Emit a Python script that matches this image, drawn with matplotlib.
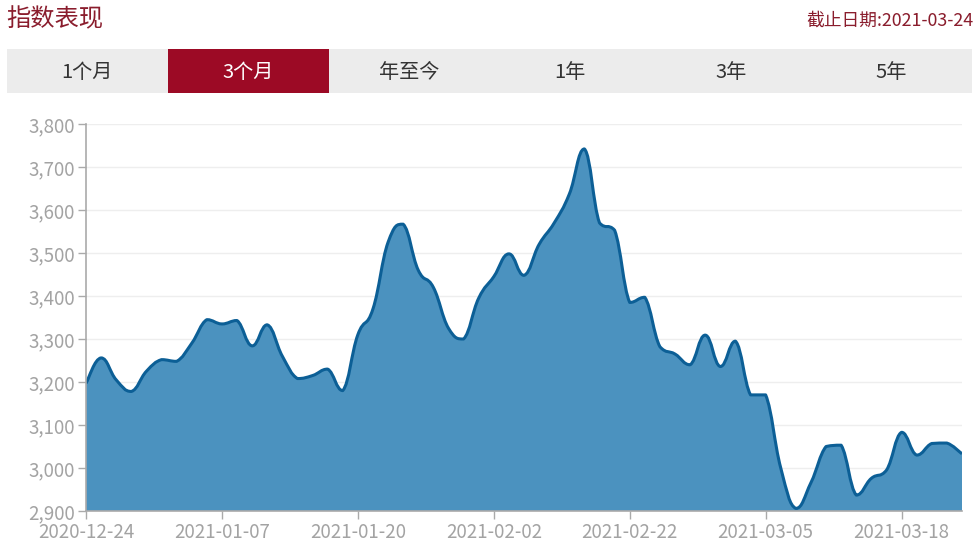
import numpy as np
import matplotlib.pyplot as plt
from matplotlib.path import Path
from matplotlib.patches import PathPatch, Rectangle

plt.rcParams['font.family'] = ['Noto Sans CJK SC', 'DejaVu Sans']

# trading days shown in the 3-month window
dates = ['2020-12-24', '2020-12-25', '2020-12-28', '2020-12-29', '2020-12-30', '2020-12-31',
         '2021-01-04', '2021-01-05', '2021-01-06', '2021-01-07', '2021-01-08', '2021-01-11',
         '2021-01-12', '2021-01-13', '2021-01-14', '2021-01-15', '2021-01-18', '2021-01-19',
         '2021-01-20', '2021-01-21', '2021-01-22', '2021-01-25', '2021-01-26', '2021-01-27',
         '2021-01-28', '2021-01-29', '2021-02-01', '2021-02-02', '2021-02-03', '2021-02-04',
         '2021-02-05', '2021-02-08', '2021-02-09', '2021-02-10', '2021-02-18', '2021-02-19',
         '2021-02-22', '2021-02-23', '2021-02-24', '2021-02-25', '2021-02-26', '2021-03-01',
         '2021-03-02', '2021-03-03', '2021-03-04', '2021-03-05', '2021-03-08', '2021-03-09',
         '2021-03-10', '2021-03-11', '2021-03-12', '2021-03-15', '2021-03-16', '2021-03-17',
         '2021-03-18', '2021-03-19', '2021-03-22', '2021-03-23', '2021-03-24']
values = [3197, 3256, 3205, 3178, 3225, 3252, 3248, 3290, 3345, 3335,
          3343, 3284, 3333, 3260, 3208, 3215, 3230, 3180, 3310, 3370,
          3525, 3567, 3460, 3420, 3325, 3300, 3395, 3445, 3498, 3448,
          3520, 3570, 3637, 3742, 3570, 3553, 3385, 3397, 3282, 3265,
          3240, 3309, 3236, 3295, 3170, 3170, 3000, 2906, 2966, 3050,
          3053, 2937, 2976, 2995, 3083, 3030, 3057, 3058, 3033]
tick_dates = ['2020-12-24', '2021-01-07', '2021-01-20', '2021-02-02',
              '2021-02-22', '2021-03-05', '2021-03-18']
y_ticks = [2900, 3000, 3100, 3200, 3300, 3400, 3500, 3600, 3700, 3800]
tabs = ['1个月', '3个月', '年至今', '1年', '3年', '5年']
active_tab = '3个月'
title = '指数表现'
as_of = '截止日期:2021-03-24'

red = '#9c0a25'
fill_c = '#4b92bf'
line_c = '#0c5f96'
grey_txt = '#a3a3a3'

W, H = 978, 551
fig = plt.figure(figsize=(W / 100, H / 100), dpi=100)

def fx(px):
    return px / W

def fy(py):
    return 1 - py / H

# header
fig.text(fx(6), fy(19), title, fontsize=17.5, color='#8a1d2d', ha='left', va='center')
fig.text(fx(973), fy(21), as_of, fontsize=12.8, color='#8a1d2d', ha='right', va='center')

# tab bar
x0, x1, ytop, ybot = 7, 972, 49, 93
tab_w = (x1 - x0) / len(tabs)
fig.patches.append(Rectangle((fx(x0), fy(ybot)), fx(x1) - fx(x0), fy(ytop) - fy(ybot),
                             transform=fig.transFigure, facecolor='#ececec', edgecolor='none'))
for i, t in enumerate(tabs):
    left = x0 + i * tab_w
    active = t == active_tab
    if active:
        fig.patches.append(Rectangle((fx(left), fy(ybot)), fx(tab_w), fy(ytop) - fy(ybot),
                                     transform=fig.transFigure, facecolor=red, edgecolor='none'))
    fig.text(fx(left + tab_w / 2), fy(72), t, fontsize=14.5,
             color='white' if active else '#333333', ha='center', va='center')

# chart
ax = fig.add_axes([fx(86), fy(511), fx(962 - 86), fy(124) - fy(511)])
x = np.arange(len(values))
y = np.array(values, dtype=float)

# smooth curve through the points, control points kept inside each segment's range
s = 0.22
verts = [(x[0], y[0])]
codes = [Path.MOVETO]
for i in range(len(x) - 1):
    p0 = np.array([x[max(i - 1, 0)], y[max(i - 1, 0)]])
    p1 = np.array([x[i], y[i]])
    p2 = np.array([x[i + 1], y[i + 1]])
    p3 = np.array([x[min(i + 2, len(x) - 1)], y[min(i + 2, len(x) - 1)]])
    c1 = p1 + (p2 - p0) * s
    c2 = p2 - (p3 - p1) * s
    lo, hi = min(p1[1], p2[1]), max(p1[1], p2[1])
    c1[1] = np.clip(c1[1], lo, hi)
    c2[1] = np.clip(c2[1], lo, hi)
    verts += [tuple(c1), tuple(c2), tuple(p2)]
    codes += [Path.CURVE4] * 3

base = y_ticks[0]
fill_verts = verts + [(x[-1], base), (x[0], base), (x[0], y[0])]
fill_codes = codes + [Path.LINETO, Path.LINETO, Path.CLOSEPOLY]
ax.add_patch(PathPatch(Path(fill_verts, fill_codes), facecolor=fill_c, edgecolor='none', zorder=2))
ax.add_patch(PathPatch(Path(verts, codes), facecolor='none', edgecolor=line_c, lw=2.2,
                       joinstyle='round', zorder=3))

ax.set_xlim(0, len(values) - 1)
ax.set_ylim(y_ticks[0], y_ticks[-1])
ax.set_yticks(y_ticks)
ax.set_yticklabels([f'{v:,}' for v in y_ticks])
ax.set_xticks([dates.index(d) for d in tick_dates])
ax.set_xticklabels(tick_dates)
ax.grid(axis='y', color='#eeeeee', lw=1, zorder=0)
ax.set_axisbelow(True)
for side in ['top', 'right']:
    ax.spines[side].set_visible(False)
for side in ['left', 'bottom']:
    ax.spines[side].set_color('#aaaaaa')
    ax.spines[side].set_linewidth(1.2)
    ax.spines[side].set_zorder(4)
ax.tick_params(axis='both', colors='#aaaaaa', labelcolor=grey_txt, labelsize=13.5, length=6, width=1)
ax.tick_params(axis='y', pad=2)
ax.tick_params(axis='x', pad=2)

fig.savefig('out.png', dpi=100)
